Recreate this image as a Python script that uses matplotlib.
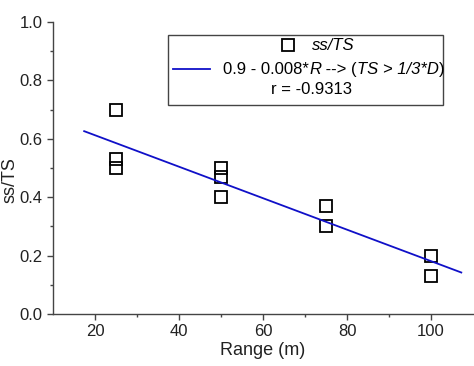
import numpy as np
import matplotlib.pyplot as plt
from matplotlib.patches import Rectangle

plt.rcParams['font.family'] = ['Liberation Sans', 'DejaVu Sans']

### DATA ###
range_m = [25, 25, 25, 50, 50, 50, 75, 75, 100, 100]
ss_ts = [0.70, 0.53, 0.50, 0.50, 0.47, 0.40, 0.37, 0.30, 0.20, 0.13]
fit_range = [17.4, 107.2]
points_label = 'ss/TS'
# (text, italic) pieces of the fit label
fit_label = [('0.9 - 0.008*', False), ('R', True), (' --> (', False),
             ('TS > 1/3*D', True), (')', False)]
r_label = 'r = -0.9313'

# linear fit through the points
slope, intercept = np.polyfit(range_m, ss_ts, 1)
fit_x = np.array(fit_range)
fit_y = intercept + slope * fit_x

### PLOT ###
fig = plt.figure(figsize=(4.74, 3.66), dpi=100)
ax = fig.add_axes([0.112, 0.142, 0.886, 0.798])

ax.plot(range_m, ss_ts, 's', ms=8, mfc='none', mec='black', mew=1.3, clip_on=False)
ax.plot(fit_x, fit_y, color='#1010c8', lw=1.3)

ax.set_xlim(10, 110)
ax.set_ylim(0, 1.0)
ax.set_xticks([20, 40, 60, 80, 100])
ax.set_xticks([30, 50, 70, 90], minor=True)
ax.set_yticks(np.arange(0, 1.01, 0.2))
ax.set_yticks(np.arange(0.1, 1.0, 0.2), minor=True)
ax.yaxis.set_major_formatter(plt.FormatStrFormatter('%.1f'))

for side in ['top', 'right']:
    ax.spines[side].set_visible(False)
for side in ['left', 'bottom']:
    ax.spines[side].set_color('#444444')
    ax.spines[side].set_linewidth(1.0)
ax.tick_params(which='major', direction='out', length=4, width=1, color='#444444',
               labelsize=12, labelcolor='#222222')
ax.tick_params(which='minor', direction='out', length=2.5, width=1, color='#444444')

ax.set_xlabel('Range (m)', fontsize=13, color='#222222', labelpad=2)
fig.text(0.022, 0.508, 'ss/TS', rotation=90, fontsize=13, color='#222222',
         ha='center', va='center')

# Origin style legend box, rows centred
tr = ax.transAxes
ax.add_patch(Rectangle((0.274, 0.716), 0.655, 0.239, transform=tr, fill=False,
                       ec='#444444', lw=1.0, clip_on=False))
ax.plot([0.560], [0.921], 's', ms=8, mfc='none', mec='black', mew=1.3,
        transform=tr, clip_on=False)
ax.text(0.616, 0.921, points_label, transform=tr, fontsize=12, va='center', ha='left',
        style='italic')
ax.plot([0.286, 0.374], [0.838, 0.838], color='#1010c8', lw=1.3, transform=tr, clip_on=False)

prev = None
for txt, it in fit_label:
    st = 'italic' if it else 'normal'
    if prev is None:
        prev = ax.text(0.405, 0.838, txt, transform=tr, fontsize=12, va='center',
                       ha='left', style=st)
    else:
        prev = ax.annotate(txt, xy=(1, 0), xycoords=prev, va='bottom', ha='left',
                           fontsize=12, style=st)

ax.text(0.615, 0.770, r_label, transform=tr, fontsize=12, va='center', ha='center')

fig.savefig('out.png', dpi=100)
